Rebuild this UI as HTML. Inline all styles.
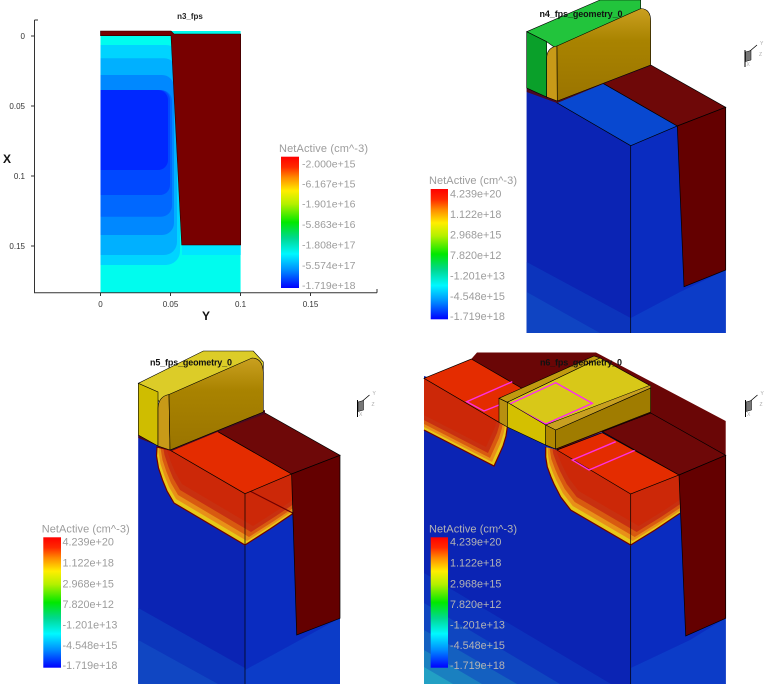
<!DOCTYPE html>
<html><head><meta charset="utf-8"><style>
html,body{margin:0;padding:0;background:#fff;}
svg{display:block;}
text{font-family:"Liberation Sans",sans-serif;}
</style></head><body>
<svg width="768" height="684" viewBox="0 0 768 684" xmlns="http://www.w3.org/2000/svg">
<defs>
<linearGradient id="jet" x1="0" y1="0" x2="0" y2="1">
<stop offset="0" stop-color="#ff0000"/>
<stop offset="0.08" stop-color="#ff2a00"/>
<stop offset="0.16" stop-color="#ff8c00"/>
<stop offset="0.26" stop-color="#ffee00"/>
<stop offset="0.36" stop-color="#b4f000"/>
<stop offset="0.5" stop-color="#00e800"/>
<stop offset="0.62" stop-color="#00d890"/>
<stop offset="0.74" stop-color="#00f8ff"/>
<stop offset="0.86" stop-color="#0090ff"/>
<stop offset="1" stop-color="#0000ff"/>
</linearGradient>
<linearGradient id="gold" x1="0" y1="0" x2="0" y2="1">
<stop offset="0" stop-color="#caa020"/>
<stop offset="0.35" stop-color="#a98300"/>
<stop offset="1" stop-color="#9a7400"/>
</linearGradient>
<clipPath id="c1"><rect x="100.5" y="31" width="140.2" height="261.7"/></clipPath>
<clipPath id="d3"><polygon points="170,450 157,447 156.5,456 158.5,468 162.5,480 167,491 174,503 245,545 270,529 293.3,513.3 291.6,474 245,494"/></clipPath>
<clipPath id="d4"><polygon points="557,450 545.7,447 545.7,457 547.3,467 551,477 554,484 560.7,497 570.7,510 630.7,545 655,530 680,513.3 679,475 630.7,494"/></clipPath>
<clipPath id="s4"><polygon points="424,378.3 499,422.3 507.3,427 506,436 503,446 499,455 494,466 424,430"/></clipPath>
</defs>

<!-- ============ PANEL 1 ============ -->
<text x="190" y="19" font-size="8" font-weight="bold" text-anchor="middle" fill="#222">n3_fps</text>
<g clip-path="url(#c1)">
<rect x="100.5" y="31" width="140.2" height="261.7" fill="#00fcee"/>
<rect x="80" y="45" width="100" height="220" rx="14" fill="#00d4ff"/>
<rect x="80" y="58.3" width="97" height="196.7" rx="13" fill="#00b0ff"/>
<rect x="80" y="75" width="94" height="160" rx="12" fill="#0088ff"/>
<rect x="80" y="90" width="92" height="126.7" rx="11" fill="#0068ff"/>
<rect x="80" y="90" width="90" height="105" rx="10" fill="#0048ff"/>
<rect x="80" y="90" width="88" height="80" rx="10" fill="#0028ff"/>
<rect x="182" y="245" width="60" height="10" fill="#00e6ff"/>
</g>
<polygon points="100.5,31 171,31 174,34 240.7,34 240.7,245 181.7,245 171,35.7 100.5,35.7" fill="#780000" stroke="#2a0000" stroke-width="0.6"/>
<path d="M34.5,20 V292.7 H377" stroke="#333" stroke-width="1" fill="none"/>
<path d="M31,36 H34.5 M31,106 H34.5 M31,176 H34.5 M31,246 H34.5 M34.5,20 H38 M100.5,292.7 V296 M170.5,292.7 V296 M240.5,292.7 V296 M310.5,292.7 V296 M377,292.7 V289" stroke="#333" stroke-width="1"/>
<g font-size="8" fill="#333" text-anchor="end">
<text x="25" y="39">0</text>
<text x="25" y="109">0.05</text>
<text x="25" y="179">0.1</text>
<text x="25" y="249">0.15</text>
</g>
<g font-size="8" fill="#333" text-anchor="middle">
<text x="100.5" y="307">0</text>
<text x="170.5" y="307">0.05</text>
<text x="240.5" y="307">0.1</text>
<text x="310.5" y="307">0.15</text>
</g>
<text x="7" y="163" font-size="12" font-weight="bold" text-anchor="middle" fill="#111">X</text>
<text x="206" y="320" font-size="12" font-weight="bold" text-anchor="middle" fill="#111">Y</text>
<text x="279" y="152" font-size="11" fill="#9c9c9c" textLength="89">NetActive (cm^-3)</text>
<rect x="281" y="156.7" width="18" height="131.3" fill="url(#jet)"/>
<g font-size="10.5" fill="#9c9c9c">
<text x="302" y="167.3">-2.000e+15</text>
<text x="302" y="187.3">-6.167e+15</text>
<text x="302" y="207.3">-1.901e+16</text>
<text x="302" y="228">-5.863e+16</text>
<text x="302" y="248.3">-1.808e+17</text>
<text x="302" y="269">-5.574e+17</text>
<text x="302" y="289">-1.719e+18</text>
</g>

<!-- ============ PANEL 2 ============ -->
<polygon points="526.7,84 603,82 650.7,66 725.7,108 725.7,333 526.7,333" fill="#0b24b4"/>
<polygon points="526.7,88 556.7,102.7 630.7,145.7 630.7,333 526.7,333" fill="#0b24b4"/>
<polygon points="526.7,262 630.7,318 630.7,333 526.7,333" fill="#0c34bc"/>
<polygon points="526.7,292 600,333 526.7,333" fill="#0f44c2"/>
<polygon points="630.7,145.7 677.3,126 725.7,107.3 725.7,333 630.7,333" fill="#0a2cc0"/>
<polygon points="630.7,318 680,292 725.7,270 725.7,333 630.7,333" fill="#0c3cc8"/>
<polygon points="556.7,102.7 603,83.3 677.3,126 630.7,145.7" fill="#0848d0" stroke="#000" stroke-width="0.7"/>
<line x1="630.7" y1="145.7" x2="630.7" y2="333" stroke="#000" stroke-width="0.7"/>
<polygon points="603,83.3 650.7,65 725.7,107.3 677.3,126" fill="#6e0808" stroke="#000" stroke-width="0.7"/>
<polygon points="677.3,126 725.7,107.3 725.7,270 684,286.7" fill="#640000" stroke="#000" stroke-width="0.7"/>
<polygon points="526.7,85 557,99.5 603,80.5 650.7,62 650.7,66 603,84 557,103 526.7,92" fill="#4a0a20"/>
<polygon points="526.7,31.7 600,0 640.7,0 640.7,14 557,49 546.7,41.7" fill="#22c43c" stroke="#000" stroke-width="0.6"/>
<polygon points="526.7,31.7 546.7,41.7 546.7,97 526.7,88" fill="#0aa02a" stroke="#000" stroke-width="0.6"/>
<path d="M546.7,97 L546.7,57 Q547.5,47.5 557,46 L557.3,101 Z" fill="#c89a18" stroke="#000" stroke-width="0.6"/>
<path d="M557,46 L641,8.5 Q650.7,9 650.7,21 L650.7,65 L557.3,101 Z" fill="url(#gold)" stroke="#000" stroke-width="0.6"/>
<text x="581" y="17" font-size="9" font-weight="bold" text-anchor="middle" fill="#111" textLength="83">n4_fps_geometry_0</text>
<g transform="translate(745,50)">
<line x1="0" y1="0" x2="0" y2="17" stroke="#000" stroke-width="1"/>
<polygon points="0.5,2 6,0.5 6,10 0.5,11.5" fill="#777" stroke="#000" stroke-width="0.5"/>
<line x1="5" y1="1" x2="12" y2="-5" stroke="#000" stroke-width="0.8"/>
<text x="15" y="-5" font-size="5" fill="#aaa">Y</text>
<text x="14" y="6" font-size="5" fill="#aaa">Z</text>
<text x="1.5" y="16" font-size="5" fill="#aaa">X</text>
</g>
<text x="429" y="184" font-size="11" fill="#9c9c9c" textLength="88">NetActive (cm^-3)</text>
<rect x="430.7" y="189" width="17.3" height="130.3" fill="url(#jet)"/>
<g font-size="10.8" fill="#9c9c9c">
<text x="450" y="197.3">4.239e+20</text>
<text x="450" y="218">1.122e+18</text>
<text x="450" y="238.7">2.968e+15</text>
<text x="450" y="259">7.820e+12</text>
<text x="450" y="279.7">-1.201e+13</text>
<text x="450" y="300">-4.548e+15</text>
<text x="450" y="320">-1.719e+18</text>
</g>

<!-- ============ PANEL 3 ============ -->
<polygon points="138.3,430 217.3,430 265,414 340,456 340,684 138.3,684" fill="#0b24b4"/>
<polygon points="138.3,432 171,450.7 245,494 245,684 138.3,684" fill="#0b24b4"/>
<polygon points="138.3,608 245,668 245,684 138.3,684" fill="#0c36bc"/>
<polygon points="138.3,640 218,684 138.3,684" fill="#1046c2"/>
<polygon points="245,494 291.6,474 340,455.3 340,684 245,684" fill="#0a2cc0"/>
<polygon points="245,670 300,640 340,618 340,684 245,684" fill="#0c3cc8"/>
<line x1="245" y1="494" x2="245" y2="684" stroke="#000" stroke-width="0.7"/>
<g clip-path="url(#d3)">
<polygon points="170,450 157,447 156.5,456 158.5,468 162.5,480 167,491 174,503 245,545 270,529 293.3,513.3 291.6,474 245,494" fill="#e8c818"/>
<polygon transform="translate(2,-4)" points="170,450 157,447 156.5,456 158.5,468 162.5,480 167,491 174,503 245,545 270,529 293.3,513.3 291.6,474 245,494" fill="#e89018"/>
<polygon transform="translate(4,-8)" points="170,450 157,447 156.5,456 158.5,468 162.5,480 167,491 174,503 245,545 270,529 293.3,513.3 291.6,474 245,494" fill="#d85a10"/>
<polygon transform="translate(6,-13)" points="170,450 157,447 156.5,456 158.5,468 162.5,480 167,491 174,503 245,545 270,529 293.3,513.3 291.6,474 245,494" fill="#c83010"/>
<polygon transform="translate(8,-19)" points="170,450 157,447 156.5,456 158.5,468 162.5,480 167,491 174,503 245,545 270,529 293.3,513.3 291.6,474 245,494" fill="#cc2808"/>
</g>
<polygon points="170,450 157,447 156.5,456 158.5,468 162.5,480 167,491 174,503 245,545 270,529 293.3,513.3" fill="none" stroke="#700000" stroke-width="1.2"/>
<line x1="245" y1="494" x2="245" y2="545" stroke="#000" stroke-width="0.7"/>
<polygon points="171,450.7 217.3,431.3 291.6,474 245,493.7" fill="#e42c00" stroke="#000" stroke-width="0.7"/>
<polygon points="217.3,431.3 265,413 340,455.3 291.6,474" fill="#6e0808" stroke="#000" stroke-width="0.7"/>
<polygon points="291.6,474 340,455.3 340,618.3 296.7,635" fill="#640000" stroke="#000" stroke-width="0.7"/>
<polygon points="138.3,431 171.3,447.5 217.3,428.5 265,410 265,414 217.3,432 171.3,451 138.3,438" fill="#4a0a20"/>
<polygon points="138.3,383.3 203.3,351 253.3,351 263.3,362 263.3,380 170,420 158,400" fill="#dccc28" stroke="#000" stroke-width="0.6"/>
<polygon points="138.3,383.3 158,392 158,446 138.3,435" fill="#cfbd00" stroke="#000" stroke-width="0.6"/>
<path d="M158,446 L158,408 Q158.5,396.5 169,394.5 L170,450 Z" fill="#c89a18" stroke="#000" stroke-width="0.6"/>
<path d="M169,394.5 L252,358 Q262.5,358 263.3,372 L263.3,412 L170,450 Z" fill="url(#gold)" stroke="#000" stroke-width="0.6"/>
<text x="191" y="365.5" font-size="9" font-weight="bold" text-anchor="middle" fill="#111" textLength="82">n5_fps_geometry_0</text>
<g transform="translate(357.5,400)">
<line x1="0" y1="0" x2="0" y2="17" stroke="#000" stroke-width="1"/>
<polygon points="0.5,2 6,0.5 6,10 0.5,11.5" fill="#777" stroke="#000" stroke-width="0.5"/>
<line x1="5" y1="1" x2="12" y2="-5" stroke="#000" stroke-width="0.8"/>
<text x="15" y="-5" font-size="5" fill="#aaa">Y</text>
<text x="14" y="6" font-size="5" fill="#aaa">Z</text>
<text x="1.5" y="16" font-size="5" fill="#aaa">X</text>
</g>
<text x="41.7" y="532.3" font-size="11" fill="#9c9c9c" textLength="88">NetActive (cm^-3)</text>
<rect x="43.3" y="537.3" width="17.7" height="130.4" fill="url(#jet)"/>
<g font-size="10.8" fill="#9c9c9c">
<text x="62.5" y="545.7">4.239e+20</text>
<text x="62.5" y="566.7">1.122e+18</text>
<text x="62.5" y="587.3">2.968e+15</text>
<text x="62.5" y="608">7.820e+12</text>
<text x="62.5" y="628.3">-1.201e+13</text>
<text x="62.5" y="649">-4.548e+15</text>
<text x="62.5" y="669">-1.719e+18</text>
</g>

<!-- ============ PANEL 4 ============ -->
<polygon points="424,376 500,400 557,446 602.3,432 650.7,414 725.7,456 725.7,684 424,684" fill="#0b24b4"/>
<polygon points="424,378.3 557,450 630.7,494 630.7,684 424,684" fill="#0b24b4"/>
<polygon points="424,573 611,684 424,684" fill="#0c32bc"/>
<polygon points="424,603 560,684 424,684" fill="#0f46c0"/>
<polygon points="424,630 517,684 424,684" fill="#1460c0"/>
<polygon points="424,650 482,684 424,684" fill="#1a80c0"/>
<polygon points="424,667 453,684 424,684" fill="#22a0c4"/>
<polygon points="630.7,494 679,475 725.7,455.3 725.7,684 630.7,684" fill="#0a2cc0"/>
<polygon points="630.7,668 690,640 725.7,618 725.7,684 630.7,684" fill="#0c3cc8"/>
<line x1="630.7" y1="494" x2="630.7" y2="684" stroke="#000" stroke-width="0.7"/>
<polygon points="471.3,359 477,352.5 596,352.5 725.7,421 725.7,455.3 679,475 602.3,431.7 557,450 530,393" fill="#6a0606"/>
<g clip-path="url(#s4)">
<polygon points="424,378.3 499,422.3 507.3,427 506,436 503,446 499,455 494,466 424,430" fill="#e8c818"/>
<polygon transform="translate(-2,-4)" points="424,378.3 499,422.3 507.3,427 506,436 503,446 499,455 494,466 424,430" fill="#e89018"/>
<polygon transform="translate(-4,-8)" points="424,378.3 499,422.3 507.3,427 506,436 503,446 499,455 494,466 424,430" fill="#d85a10"/>
<polygon transform="translate(-6,-13)" points="424,378.3 499,422.3 507.3,427 506,436 503,446 499,455 494,466 424,430" fill="#c83010"/>
<polygon transform="translate(-8,-19)" points="424,378.3 499,422.3 507.3,427 506,436 503,446 499,455 494,466 424,430" fill="#cc2808"/>
</g>
<polyline points="424,430 494,466 499,455 503,446 506,436 507.3,427" fill="none" stroke="#700000" stroke-width="1.2"/>
<polygon points="424,378.3 471.3,359 530,393 499,422.3" fill="#e42c00" stroke="#000" stroke-width="0.7"/>
<polyline points="512.3,381.7 466.7,401.7 484,411 499,405" fill="none" stroke="#ff30e0" stroke-width="1.4"/>
<g clip-path="url(#d4)">
<polygon points="557,450 545.7,447 545.7,457 547.3,467 551,477 554,484 560.7,497 570.7,510 630.7,545 655,530 680,513.3 679,475 630.7,494" fill="#e8c818"/>
<polygon transform="translate(2,-4)" points="557,450 545.7,447 545.7,457 547.3,467 551,477 554,484 560.7,497 570.7,510 630.7,545 655,530 680,513.3 679,475 630.7,494" fill="#e89018"/>
<polygon transform="translate(4,-8)" points="557,450 545.7,447 545.7,457 547.3,467 551,477 554,484 560.7,497 570.7,510 630.7,545 655,530 680,513.3 679,475 630.7,494" fill="#d85a10"/>
<polygon transform="translate(6,-13)" points="557,450 545.7,447 545.7,457 547.3,467 551,477 554,484 560.7,497 570.7,510 630.7,545 655,530 680,513.3 679,475 630.7,494" fill="#c83010"/>
<polygon transform="translate(8,-19)" points="557,450 545.7,447 545.7,457 547.3,467 551,477 554,484 560.7,497 570.7,510 630.7,545 655,530 680,513.3 679,475 630.7,494" fill="#cc2808"/>
</g>
<polyline points="545.7,447 545.7,457 547.3,467 551,477 554,484 560.7,497 570.7,510 630.7,545 655,530 680,513.3" fill="none" stroke="#700000" stroke-width="1.2"/>
<line x1="630.7" y1="494" x2="630.7" y2="545" stroke="#000" stroke-width="0.7"/>
<polygon points="557,450 602.3,432.7 679,475 630.7,494" fill="#e42c00" stroke="#000" stroke-width="0.7"/>
<polyline points="615.7,441.7 572.3,460 589,470 635.7,450" fill="none" stroke="#ff30e0" stroke-width="1.4"/>
<polygon points="602.3,431.7 650.7,413 725.7,455.3 679,475" fill="#6e0808" stroke="#000" stroke-width="0.7"/>
<polygon points="679,475 725.7,455.3 725.7,618.3 685.7,636" fill="#640000" stroke="#000" stroke-width="0.7"/>
<polygon points="499,398.3 594,356 600,358 507.3,402.3" fill="#c09a10" stroke="#000" stroke-width="0.6"/>
<polygon points="507.3,402.3 600,358 650.7,386 545.7,425" fill="#d8c818" stroke="#000" stroke-width="0.6"/>
<polygon points="509,404.3 555.7,382.7 592.3,403.3 545.7,424" fill="none" stroke="#ff20ff" stroke-width="1.3"/>
<polygon points="499,398.3 507.3,402.3 507.3,427 499,422.3" fill="#b89010" stroke="#000" stroke-width="0.6"/>
<polygon points="507.3,402.3 545.7,425 545.7,445 507.3,427" fill="#d4c000" stroke="#000" stroke-width="0.6"/>
<polygon points="545.7,425 650.7,385 650.7,388 555.7,430" fill="#c8a020" stroke="#000" stroke-width="0.5"/>
<polygon points="545.7,425 555.7,430 555.7,449 545.7,445" fill="#b08800" stroke="#000" stroke-width="0.6"/>
<polygon points="555.7,430 650.7,388 650.7,412 555.7,449" fill="#a07c00" stroke="#000" stroke-width="0.6"/>
<text x="581" y="365.5" font-size="9" font-weight="bold" text-anchor="middle" fill="#111" textLength="82">n6_fps_geometry_0</text>
<g transform="translate(745.5,400)">
<line x1="0" y1="0" x2="0" y2="17" stroke="#000" stroke-width="1"/>
<polygon points="0.5,2 6,0.5 6,10 0.5,11.5" fill="#777" stroke="#000" stroke-width="0.5"/>
<line x1="5" y1="1" x2="12" y2="-5" stroke="#000" stroke-width="0.8"/>
<text x="15" y="-5" font-size="5" fill="#aaa">Y</text>
<text x="14" y="6" font-size="5" fill="#aaa">Z</text>
<text x="1.5" y="16" font-size="5" fill="#aaa">X</text>
</g>
<text x="429" y="532.3" font-size="11" fill="#b4b4b4" textLength="88">NetActive (cm^-3)</text>
<rect x="430.7" y="537.3" width="17.3" height="130.4" fill="url(#jet)"/>
<g font-size="10.8" fill="#b4b4b4">
<text x="450" y="545.7">4.239e+20</text>
<text x="450" y="566.7">1.122e+18</text>
<text x="450" y="587.3">2.968e+15</text>
<text x="450" y="608">7.820e+12</text>
<text x="450" y="628.3">-1.201e+13</text>
<text x="450" y="649">-4.548e+15</text>
<text x="450" y="669">-1.719e+18</text>
</g>
</svg>
</body></html>
